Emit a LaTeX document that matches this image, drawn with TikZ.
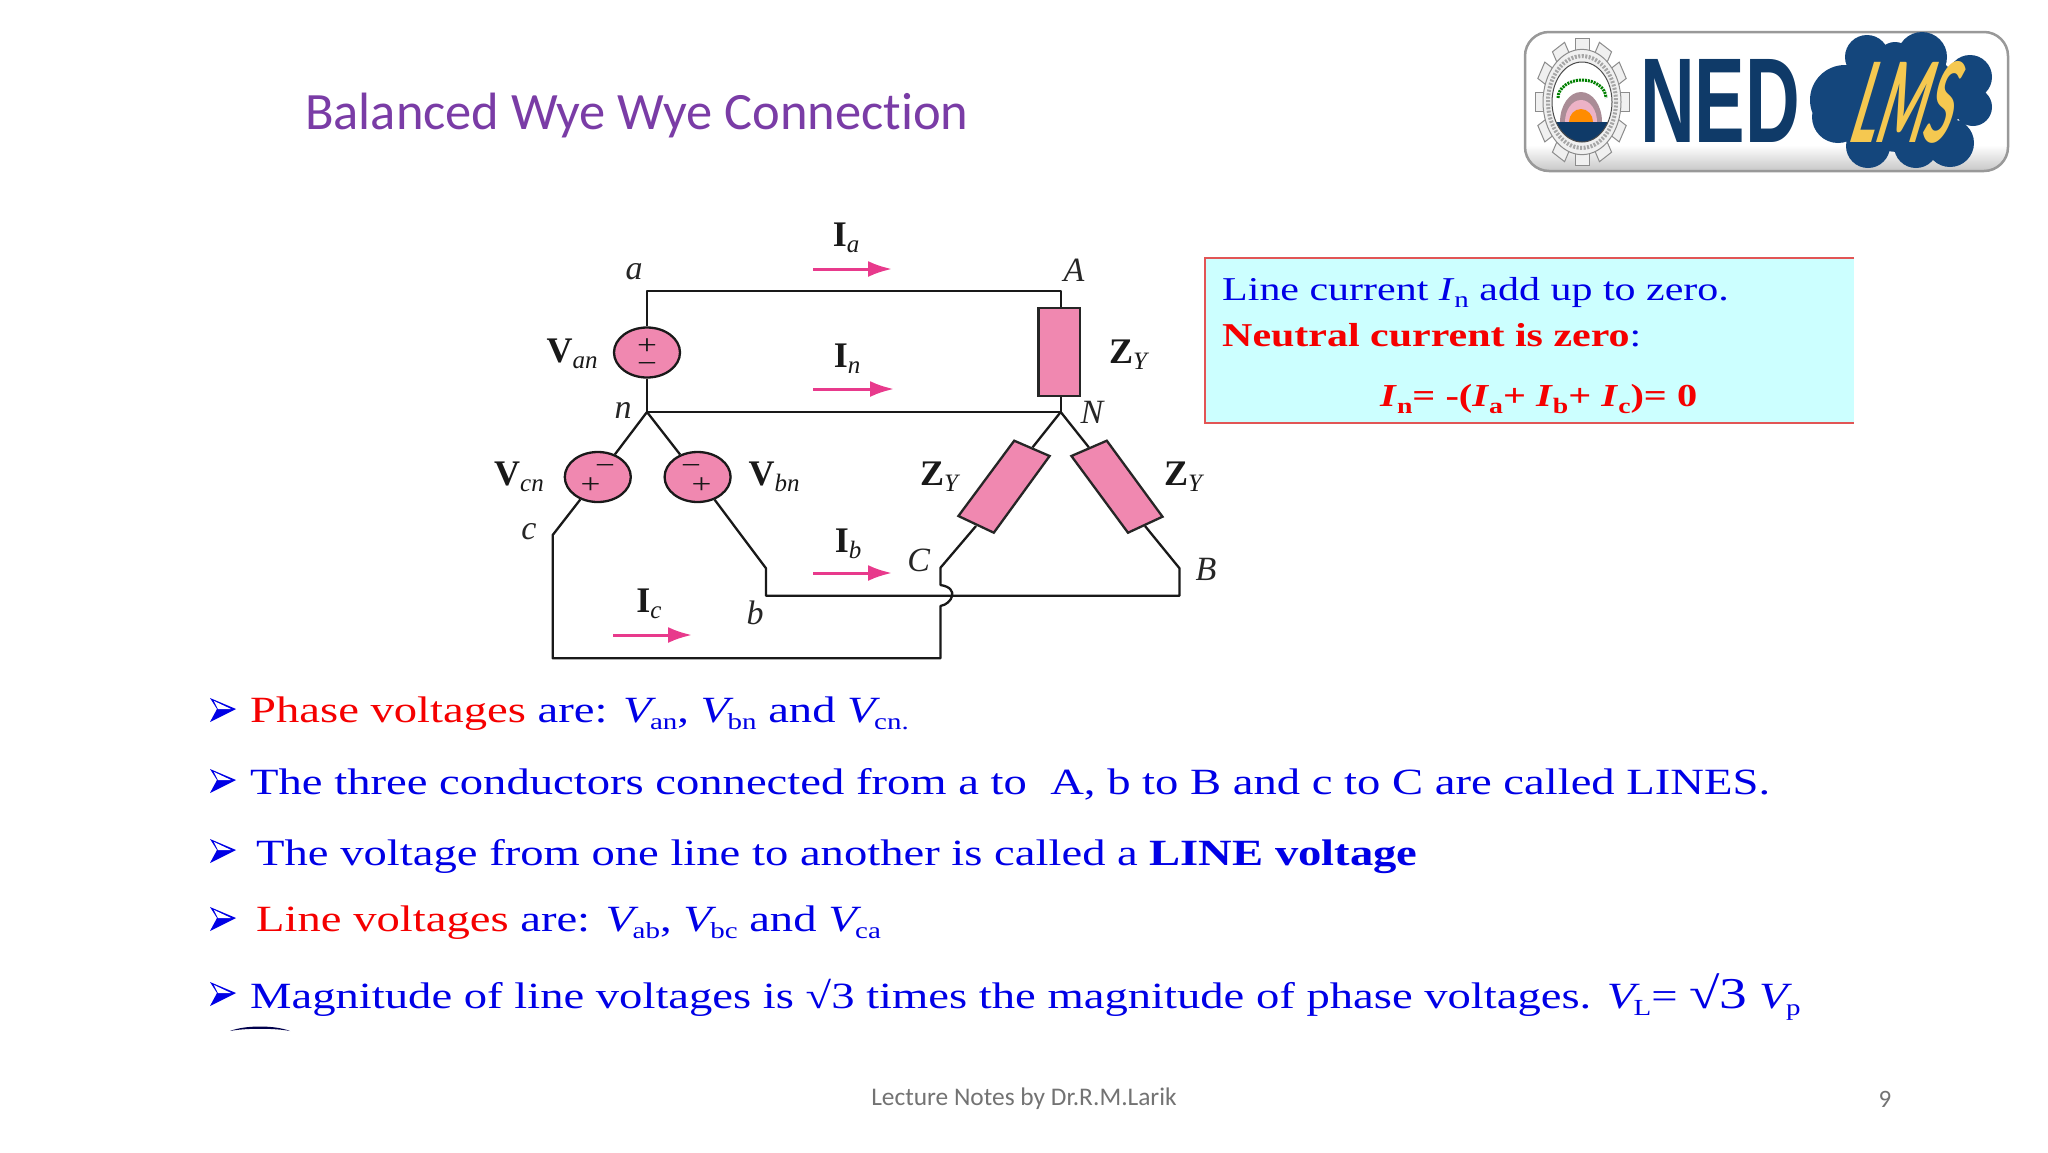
\documentclass[tikz,border=0pt]{standalone}
\usepackage{fontspec}
\usepackage{graphicx}
\usetikzlibrary{shapes.geometric,arrows.meta,calc}
\setmainfont{Liberation Serif}[FakeStretch=1.26]
\newfontfamily\cirf{Liberation Serif}
\newfontfamily\ttl{Carlito}[Ligatures=NoCommon]
\newfontfamily\hei{Liberation Sans}
\newfontfamily\lmsf{Lato}
\definecolor{bluet}{HTML}{0000E6}
\definecolor{redt}{HTML}{F50000}
\definecolor{purp}{HTML}{7A3CA6}
\definecolor{pinkf}{HTML}{F088B0}
\definecolor{pinka}{HTML}{E83A8C}
\definecolor{navy}{HTML}{0F3A68}
\definecolor{cloud}{HTML}{14467C}
\definecolor{boxc}{HTML}{CCFFFF}
\definecolor{boxr}{HTML}{E25555}
\definecolor{lmsy}{HTML}{F5C850}
\newcommand{\fs}[1]{\fontsize{#1}{#1}\selectfont}
\newcommand{\low}[2][-7pt]{\raisebox{#1}{\fs{23}#2}}
\newcommand{\vlow}[1]{\textit{V}\hspace{-6pt}\raisebox{-7pt}{\fs{23}#1}}
\newcommand{\lowb}[1]{\raisebox{-7pt}{\fs{22}\bfseries #1}}
\newcommand{\cursub}[2]{{\bfseries #1}\raisebox{-6pt}{\fs{25}\itshape #2}}
\newcommand{\zy}{{\bfseries Z}\raisebox{-6pt}{\fs{25}\itshape Y}}
\tikzset{
 wire/.style={line width=2.3pt,draw=black!90,line join=round},
 src/.style={ellipse,draw=black!90,line width=2.3pt,fill=pinkf,minimum width=66pt,minimum height=50pt,inner sep=0},
 zrect/.style={draw=black!85,line width=2.3pt,fill=pinkf},
 curarrow/.style={line width=3pt,pinka,-{Latex[length=24pt,width=16pt]}},
 lab/.style={inner sep=0,font=\cirf\fs{34}\itshape,black!85},
 blab/.style={inner sep=0,font=\cirf\fs{36},black!90},
 sign/.style={inner sep=0,font=\fs{28},black!90,text height=6pt,text depth=0pt,yshift=-6pt},
 txt/.style={anchor=base west,inner sep=0,font=\fs{37},text=bluet},
 boxt/.style={anchor=base west,inner sep=0,font=\fs{33.3},text=bluet},
}
\newcommand{\bullt}[2]{\fill[bluet] (#1,#2) -- ++(26,11) -- ++(-26,13) -- ++(7,-13) -- cycle;\fill[white] (#1+4,#2+3) -- ++(17,8) -- ++(-13,0) -- cycle;}
\begin{document}
\begin{tikzpicture}[x=1pt,y=-1pt]
\useasboundingbox (0,0) rectangle (2048,1152);
\fill[white] (0,0) rectangle (2048,1152);
% title / footer
\node[anchor=base west,inner sep=0,text=purp,font=\ttl\fs{52.5}] (title) at (305,129) {Balanced Wye Wye Connection};
\node[inner sep=0,text=black!55,font=\ttl\fs{25.4}] (foot) at (1024,1099) {Lecture Notes by Dr.R.M.Larik};
\node[inner sep=0,text=black!55,font=\ttl\fs{25}] (pg) at (1885,1099) {9};
% logo
\fill[white,rounded corners=24pt] (1525,32) rectangle (2008,171);
\begin{scope}
\clip[rounded corners=24pt] (1525,32) rectangle (2008,171);
\shade[top color=white,bottom color=black!22] (1525,145) rectangle (2008,171);
\end{scope}
\draw[draw=black!40,line width=2.5pt,rounded corners=24pt] (1525,32) rectangle (2008,171);
\begin{scope}[shift={(1582,102)},yscale=1.35]
\foreach \a in {0,30,...,359}{
 \draw[fill=black!6,draw=black!45,line width=1pt,rotate=\a] (-7,-47) rectangle (7,-36);
}
\filldraw[fill=black!6,draw=black!45,line width=1pt] (0,0) circle (39);
\draw[black!35,line width=4pt,dash pattern=on 2pt off 1.5pt] (0,0) circle (34);
\end{scope}
\begin{scope}
\clip (1582,102) ellipse (30 and 40);
\fill[white] (1552,60) rectangle (1612,145);
\fill[purple!35!black!45] (1581,122) ellipse (21 and 30);
\fill[white!70!purple] (1581,122) ellipse (16 and 22);
\fill[orange!90!yellow] (1581,122) ellipse (12 and 13);
\fill[navy] (1550,122) rectangle (1614,146);
\end{scope}
\draw[green!50!black,line width=3pt,dash pattern=on 2pt off 1pt] (1558,98) arc (180:360:24 and 18);
\draw[black!70,line width=1pt] (1582,102) ellipse (30 and 40);
\node[inner sep=0,text=navy,font=\hei\bfseries] (ned) at (1720,100.5) {\resizebox{160pt}{83pt}{NED}};
\fill[cloud] (1845,100) circle (35) (1867,57) circle (22) (1922,57) circle (25) (1970,77) circle (22) (1973,107) circle (19) (1950,143) circle (24) (1916,146) circle (22) (1868,146) circle (22) (1838,117) circle (26) (1900,100) ellipse (62 and 52) (1895,60) circle (18);
\node[inner sep=0,text=lmsy,font=\lmsf\bfseries,xslant=0.3,transform shape] (lms) at (1909,102) {\resizebox{100pt}{81pt}{LMS}};
% info box
\fill[boxc] (1205,258) rectangle (1854,423);
\draw[boxr,line width=1.8pt] (1854,258) -- (1205,258) -- (1205,423) -- (1854,423);
\node[boxt] (l1) at (1222,300) {Line current \textit{I}\low{n} add up to zero.};
\node[boxt] (l2) at (1222,346) {\textcolor{redt}{\bfseries Neutral current is zero}:};
\node[boxt,text=redt,font=\fs{32}\bfseries] (l3) at (1380,406) {\textit{I}\lowb{n}= -(\textit{I}\lowb{a}+ \textit{I}\lowb{b}+ \textit{I}\lowb{c})= 0};
% circuit coordinates
\coordinate (a) at (647,291);
\coordinate (A) at (1060.7,291);
\coordinate (n) at (647,412);
\coordinate (N) at (1060.7,412);
\node[src] (van) at (647,352.5) {};
\node[src] (vcn) at (597.8,477) {};
\node[src] (vbn) at (697.6,477) {};
\coordinate (c1) at (552.7,535);
\coordinate (c2) at (552.7,658.3);
\coordinate (c3) at (940.5,658.3);
\coordinate (c4) at (940.5,606);
\coordinate (c5) at (940.5,585);
\coordinate (c6) at (940.5,567.7);
\coordinate (zc) at (976,526);
\coordinate (zct) at (1032.6,447.3);
\coordinate (zbt) at (1088.8,447.3);
\coordinate (zb) at (1145,526);
\coordinate (B) at (1179.5,568.3);
\coordinate (B2) at (1179.5,595.7);
\coordinate (b2) at (766,595.7);
\coordinate (b1) at (766,568.3);
% wires
\draw[wire] (van) -- (a) -- (A) -- (1060.7,308);
\draw[wire] (van) -- (n);
\draw[wire] (n) -- (N) -- (1060.7,396);
\draw[wire] (n) -- (vcn);
\draw[wire] (n) -- (vbn);
\draw[wire] (vcn) -- (c1) -- (c2) -- (c3) -- (c4) .. controls (952,604) and (960,588) .. (c5) -- (c6) -- (zc);
\draw[wire] (N) -- (zct);
\draw[wire] (N) -- (zbt);
\draw[wire] (zb) -- (B) -- (B2) -- (b2) -- (b1) -- (vbn);
% impedances
\filldraw[zrect] (1038.4,307.7) rectangle (1080,396);
\filldraw[zrect] (958.4,516) -- (993.8,532.7) -- (1049.6,456) -- (1014.2,440.7) -- cycle;
\filldraw[zrect] (1071.4,456) -- (1106.8,440.7) -- (1162.5,516.7) -- (1128,532.7) -- cycle;
% signs
\node[sign] (p1) at (647,345) {+};
\node[sign] (m1) at (647,363) {−};
\node[sign] (m2) at (605,465) {−};
\node[sign] (p2) at (590.5,484) {+};
\node[sign] (m3) at (691,465) {−};
\node[sign] (p3) at (701.5,484) {+};
% current arrows
\coordinate (ia1) at (813,269); \coordinate (ia2) at (892,269);
\coordinate (in1) at (813,389); \coordinate (in2) at (894,389);
\coordinate (ib1) at (813,573); \coordinate (ib2) at (892,573);
\coordinate (ic1) at (613,635); \coordinate (ic2) at (692,635);
\draw[curarrow] (ia1) -- (ia2);
\draw[curarrow] (in1) -- (in2);
\draw[curarrow] (ib1) -- (ib2);
\draw[curarrow] (ic1) -- (ic2);
% labels
\node[lab] (la) at (634,272) {a};
\node[lab] (lA) at (1074,270) {A};
\node[lab] (ln) at (623,410) {n};
\node[lab] (lN) at (1092,412) {N};
\node[lab] (lc) at (529,532) {c};
\node[lab] (lC) at (918.7,560) {C};
\node[lab] (lB) at (1206,569) {B};
\node[lab] (lb) at (755,613) {b};
\node[blab] (tIa) at (846,238) {\cursub{I}{a}};
\node[blab] (tIn) at (847,359) {\cursub{I}{n}};
\node[blab] (tIb) at (848,544) {\cursub{I}{b}};
\node[blab] (tIc) at (649,604) {\cursub{I}{c}};
\node[blab] (tVan) at (572,354) {\cursub{V}{an}};
\node[blab] (tVcn) at (519,477) {\cursub{V}{cn}};
\node[blab] (tVbn) at (774,477) {\cursub{V}{bn}};
\node[blab] (tZ1) at (1128,355) {\zy};
\node[blab] (tZ2) at (939,477) {\zy};
\node[blab] (tZ3) at (1183,477) {\zy};
% bullets
\bullt{210}{698}
\bullt{210}{769}
\bullt{210}{839}
\bullt{210}{907}
\bullt{210}{982}
\node[txt] (t1) at (250,722) {\textcolor{redt}{Phase voltages} are: \vlow{an}, \vlow{bn} and \vlow{cn.}};
\node[txt] (t2) at (250,794) {The three conductors connected from a to\ \ A, b to B and c to C are called LINES.};
\node[txt] (t3) at (256,865) {The voltage from one line to another is called a \textbf{LINE voltage}};
\node[txt] (t4) at (256,931) {\textcolor{redt}{Line voltages} are: \vlow{ab}, \vlow{bc} and \vlow{ca}};
\node[txt] (t5) at (250,1008) {Magnitude of line voltages is √3 times the magnitude of phase voltages. \vlow{L}= {\fs{44}√3} \vlow{p}};
% stray mark
\fill[black!70!blue] (230,1031) .. controls (245,1025) and (275,1025) .. (290,1031) .. controls (275,1028) and (245,1028) .. (230,1031) -- cycle;
\end{tikzpicture}
\end{document}
